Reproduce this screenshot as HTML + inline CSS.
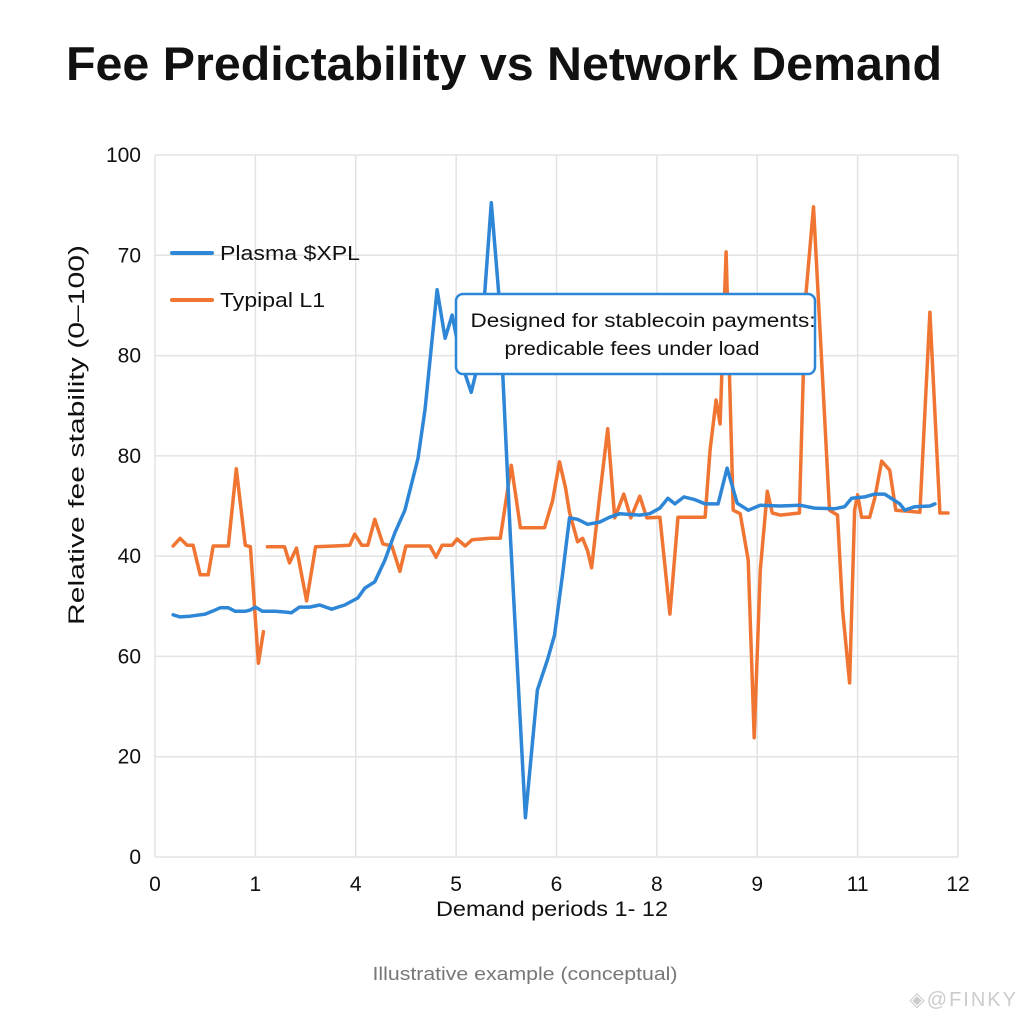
<!DOCTYPE html>
<html><head><meta charset="utf-8"><style>
body{margin:0;background:#fff;width:1024px;height:1024px;overflow:hidden;font-family:"Liberation Sans",sans-serif}
</style></head><body>
<svg width="1024" height="1024" viewBox="0 0 1024 1024">
<text x="66" y="80" font-size="47" font-weight="bold" fill="#111" textLength="876" lengthAdjust="spacingAndGlyphs">Fee Predictability vs Network Demand</text>
<g id="grid"></g>
<g id="ticks"></g>
<text transform="translate(84,435) rotate(-90)" text-anchor="middle" font-size="22" fill="#111" textLength="380" lengthAdjust="spacingAndGlyphs">Relative fee stability  (0–100)</text>
<text x="552" y="916" text-anchor="middle" font-size="21" fill="#111" textLength="232" lengthAdjust="spacingAndGlyphs">Demand periods 1- 12</text>
<g id="series"></g>
<g>
<line x1="172" y1="253" x2="212" y2="253" stroke="#2e86d6" stroke-width="4" stroke-linecap="round"/>
<text x="220" y="260" font-size="20" fill="#111" textLength="140" lengthAdjust="spacingAndGlyphs">Plasma $XPL</text>
<line x1="172" y1="300" x2="212" y2="300" stroke="#f07532" stroke-width="4" stroke-linecap="round"/>
<text x="220" y="307" font-size="20" fill="#111" textLength="105" lengthAdjust="spacingAndGlyphs">Typipal L1</text>
</g>
<g>
<rect x="456" y="294" width="359" height="80" rx="7" fill="#fff" stroke="#2e86d6" stroke-width="2.5"/>
<text x="643" y="327" text-anchor="middle" font-size="19" fill="#111" textLength="345" lengthAdjust="spacingAndGlyphs">Designed for stablecoin payments:</text>
<text x="632" y="355" text-anchor="middle" font-size="19" fill="#111" textLength="255" lengthAdjust="spacingAndGlyphs">predicable fees under load</text>
</g>
<text x="525" y="980" text-anchor="middle" font-size="18" fill="#777" textLength="305" lengthAdjust="spacingAndGlyphs">Illustrative example (conceptual)</text>
<text x="1018" y="1006" text-anchor="end" font-size="20" fill="#ccc" letter-spacing="2">◈@FINKY</text>
</svg>
<script>
const xTickLabels=["0","1","4","5","6","8","9","11","12"];
const yTickLabels=["0","20","60","40","80","80","70","100"];
const plasmaX=[0.18,0.25,0.35,0.5,0.57,0.65,0.73,0.8,0.9,0.95,1.0,1.07,1.2,1.29,1.36,1.44,1.54,1.64,1.76,1.89,2.02,2.09,2.19,2.29,2.39,2.49,2.62,2.69,2.81,2.89,2.96,3.06,3.15,3.24,3.35,3.43,3.54,3.69,3.81,3.91,3.98,4.06,4.13,4.21,4.31,4.43,4.53,4.63,4.83,4.93,5.03,5.11,5.18,5.27,5.38,5.48,5.61,5.7,5.8,5.91,6.03,6.23,6.43,6.57,6.77,6.87,6.94,7.07,7.17,7.27,7.42,7.47,7.57,7.72,7.77];
const plasmaY=[34.5,34.2,34.3,34.6,35,35.5,35.5,35,35,35.2,35.6,35,35,34.9,34.8,35.6,35.6,35.9,35.3,35.9,36.9,38.3,39.2,42.3,46.2,49.4,56.8,63.7,80.8,73.9,77.2,70.1,66.2,71.5,93.2,79.3,45.9,5.6,23.8,28.1,31.6,40.2,48.3,48.1,47.4,47.7,48.4,48.9,48.7,48.9,49.7,51.1,50.3,51.3,50.9,50.3,50.3,55.4,50.4,49.4,50.1,50,50.1,49.7,49.6,49.9,51.1,51.3,51.7,51.7,50.3,49.4,49.9,50,50.3];
const l1X=[0.18,0.25,0.32,0.38,0.45,0.53,0.58,0.73,0.81,0.9,0.95,1.03,1.08,null,1.12,1.29,1.34,1.41,1.51,1.6,1.79,1.94,1.99,2.06,2.12,2.19,2.27,2.36,2.44,2.5,2.74,2.8,2.86,2.96,3.01,3.09,3.16,3.34,3.44,3.55,3.64,3.88,3.96,4.03,4.09,4.13,4.21,4.26,4.31,4.35,4.43,4.51,4.58,4.67,4.74,4.83,4.9,5.03,5.13,5.21,5.48,5.53,5.59,5.63,5.69,5.76,5.83,5.91,5.97,6.03,6.1,6.15,6.23,6.42,6.48,6.56,6.62,6.72,6.8,6.85,6.92,6.97,7.0,7.04,7.12,7.17,7.24,7.32,7.38,7.62,7.72,7.82,7.9];
const l1Y=[44.3,45.4,44.4,44.4,40.2,40.2,44.3,44.3,55.3,44.4,44.2,27.6,32.1,null,44.2,44.2,41.9,44,36.5,44.2,44.3,44.4,46,44.4,44.4,48.1,44.6,44.3,40.7,44.3,44.3,42.7,44.4,44.4,45.3,44.3,45.2,45.4,45.4,55.8,46.9,46.9,50.7,56.3,52.6,49.1,44.9,45.4,43.6,41.2,51.4,61,48.3,51.7,48.3,51.4,48.3,48.4,34.6,48.4,48.4,58,65.1,61.7,86.2,49.4,48.9,42.3,17,40.9,52.1,49,48.7,49,79.3,92.6,76.5,49.4,48.7,35.2,24.8,49.4,51.6,48.4,48.4,51.1,56.4,55.1,49.4,49.1,77.6,49,49];
const X0=155,X1=958,Y0=857,Y1=155;
const sx=v=>X0+v*(X1-X0)/(xTickLabels.length-1);
const sy=v=>Y0-v*(Y0-Y1)/100;
const NS="http://www.w3.org/2000/svg";
const grid=document.getElementById('grid'),ticks=document.getElementById('ticks'),series=document.getElementById('series');
xTickLabels.forEach((t,i)=>{
 const l=document.createElementNS(NS,'line');
 l.setAttribute('x1',sx(i));l.setAttribute('x2',sx(i));l.setAttribute('y1',Y1);l.setAttribute('y2',Y0);
 l.setAttribute('stroke','#e3e3e3');l.setAttribute('stroke-width','1.5');
 
 
 grid.appendChild(l);
 const tx=document.createElementNS(NS,'text');
 tx.setAttribute('x',sx(i));tx.setAttribute('y',891);tx.setAttribute('text-anchor','middle');tx.setAttribute('font-size','21');tx.setAttribute('fill','#111');
 tx.textContent=t;
 
 
 ticks.appendChild(tx);
});
yTickLabels.forEach((t,i)=>{
 const v=i*100/(yTickLabels.length-1);
 const l=document.createElementNS(NS,'line');
 l.setAttribute('x1',X0);l.setAttribute('x2',X1);l.setAttribute('y1',sy(v));l.setAttribute('y2',sy(v));
 l.setAttribute('stroke','#e3e3e3');l.setAttribute('stroke-width','1.5');
 
 
 grid.appendChild(l);
 const tx=document.createElementNS(NS,'text');
 tx.setAttribute('x',141);tx.setAttribute('y',sy(v)+7);tx.setAttribute('text-anchor','end');tx.setAttribute('font-size','21');tx.setAttribute('fill','#111');
 tx.textContent=t;
 
 
 ticks.appendChild(tx);
});
function draw(xs,ys,color,name){
 let d='',move=true;
 for(let i=0;i<xs.length;i++){
  if(xs[i]===null){move=true;continue;}
  d+=(move?'M':'L')+sx(xs[i]).toFixed(1)+','+sy(ys[i]).toFixed(1);move=false;
 }
 const p=document.createElementNS(NS,'path');
 p.setAttribute('d',d);p.setAttribute('fill','none');p.setAttribute('stroke',color);p.setAttribute('stroke-width','3.5');p.setAttribute('stroke-linejoin','round');p.setAttribute('stroke-linecap','round');
 
 
 series.appendChild(p);
}
draw(l1X,l1Y,'#f07532','typical-l1-line');
draw(plasmaX,plasmaY,'#2e86d6','plasma-xpl-line');
</script>
</body></html>
